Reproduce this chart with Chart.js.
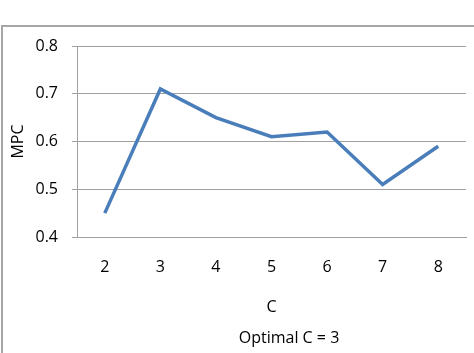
<!DOCTYPE html>
<html><head><meta charset="utf-8">
<script src="https://cdn.jsdelivr.net/npm/chart.js@4"></script>
<style>
html,body{margin:0;padding:0;background:#fff;}
#wrap{position:relative;width:474px;height:353px;overflow:hidden;}
#frame{position:absolute;left:1px;top:25px;width:480px;height:340px;border-top:2px solid #a6a6a6;border-left:2px solid #a6a6a6;}
canvas{position:absolute;left:0;top:0;}
</style></head>
<body><div id="wrap"><div id="frame"></div><canvas id="c" width="474" height="353"></canvas></div>
<script>
const categories = ['2','3','4','5','6','7','8'];
const mpcValues = [0.45, 0.71, 0.65, 0.61, 0.62, 0.51, 0.59];
const yTicks = [0.4, 0.5, 0.6, 0.7, 0.8];
const xTitle = 'C';
const yTitle = 'MPC';
const caption = 'Optimal C = 3';

const FONT = "'Open Sans', sans-serif";
const captionPlugin = {
  id: 'caption',
  afterDraw(chart) {
    const ctx = chart.ctx;
    ctx.save();
    ctx.font = "16px " + FONT;
    ctx.fillStyle = '#000';
    ctx.textAlign = 'center';
    ctx.textBaseline = 'middle';
    ctx.fillText(caption, 289, 338);
    ctx.restore();
  }
};
new Chart(document.getElementById('c'), {
  type: 'line',
  data: { labels: categories, datasets: [{ data: mpcValues, borderColor: '#4a7ebb', borderWidth: 3.5, pointRadius: 0, tension: 0, fill: false }] },
  options: {
    responsive: false, animation: false, devicePixelRatio: 1,
    layout: { padding: { top: 46, right: 8, left: 0, bottom: 33 } },
    plugins: { legend: { display: false }, tooltip: { enabled: false }, title: { display: false } },
    scales: {
      x: {
        offset: true,
        grid: { display: true, drawOnChartArea: false, drawTicks: false, color: '#a0a0a0' },
        border: { color: '#a0a0a0', width: 1 },
        ticks: { color: '#000', font: { family: FONT, size: 16 }, padding: 21, maxRotation: 0 },
        title: { display: true, text: xTitle, color: '#000', font: { family: FONT, size: 16 }, padding: { top: 0, bottom: 3 } },
        afterFit: s => { s.height = 83; }
      },
      y: {
        min: 0.4, max: 0.8,
        afterBuildTicks: s => { s.ticks = yTicks.map(v => ({ value: v })); },
        grid: { color: '#a0a0a0', tickLength: 5 },
        border: { color: '#a0a0a0', width: 1 },
        ticks: { color: '#000', font: { family: FONT, size: 16 }, padding: 14, callback: v => v.toFixed(1) },
        title: { display: true, text: yTitle, color: '#000', font: { family: FONT, size: 16 }, padding: { top: 9, bottom: 0 } },
        afterFit: s => { s.width = 77; }
      }
    }
  },
  plugins: [captionPlugin]
});
</script></body></html>
